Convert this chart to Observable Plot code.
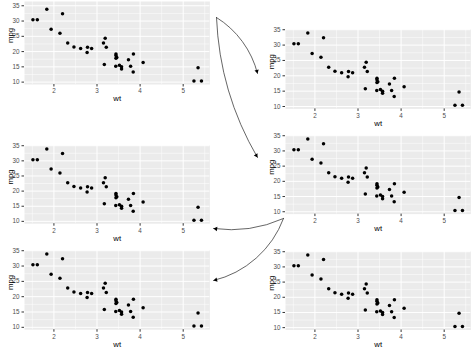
<!DOCTYPE html>
<html>
<head>
<meta charset="utf-8">
<script src="https://cdn.jsdelivr.net/npm/d3@7"></script>
<script src="https://cdn.jsdelivr.net/npm/@observablehq/plot@0.6"></script>
<style>
  html, body { margin: 0; padding: 0; background: #fff; }
  #root { position: relative; width: 474px; height: 351px; overflow: hidden; background: #fff; font-family: "Liberation Sans", Arial, sans-serif; }
  #root > div, #root > svg { position: absolute; }
</style>
</head>
<body>
<div id="root"></div>
<script>
// mtcars: weight (1000 lbs) and miles per gallon
const wt  = [2.620, 2.875, 2.320, 3.215, 3.440, 3.460, 3.570, 3.190, 3.150, 3.440, 3.440, 4.070, 3.730, 3.780, 5.250, 5.424, 5.345, 2.200, 1.615, 1.835, 2.465, 3.520, 3.435, 3.840, 3.845, 1.935, 2.140, 1.513, 3.170, 2.770, 3.570, 2.780];
const mpg = [21.0, 21.0, 22.8, 21.4, 18.7, 18.1, 14.3, 24.4, 22.8, 19.2, 17.8, 16.4, 17.3, 15.2, 10.4, 10.4, 14.7, 32.4, 30.4, 33.9, 21.5, 15.5, 15.2, 13.3, 19.2, 27.3, 26.0, 30.4, 15.8, 19.7, 15.0, 21.4];
const xMajor = [2, 3, 4, 5];
const xMinor = [1.5, 2.5, 3.5, 4.5, 5.5];
const yMajor = [10, 15, 20, 25, 30, 35];
const yMinor = [12.5, 17.5, 22.5, 27.5, 32.5];
const xLabel = "wt";
const yLabel = "mpg";

// connector arrows between the panels (annotation, pixel space)
const arrowFrom = [[216, 17], [216, 17], [283, 218], [283, 218]];
const arrowTo   = [[257, 73], [257, 157], [213, 228], [213, 280]];
const arrowBend = [22, -14, 16, 28];

const data = wt.map((w, i) => ({wt: w, mpg: mpg[i]}));
const xDomain = [1.3175, 5.6195];
const yDomain = [9.225, 35.075];

// panel layout: left / top / bottom of the grey panel area
const layout = [
  {left: 24,    top: 0.5,   bottom: 83.5,  ytop: 36.4},
  {left: 284.6, top: 29,    bottom: 108.4},
  {left: 284.6, top: 134.8, bottom: 213.4},
  {left: 24,    top: 144.8, bottom: 223},
  {left: 24,    top: 249.8, bottom: 329},
  {left: 284.6, top: 250.5, bottom: 329}
];

const root = document.getElementById("root");
const font = "'Liberation Sans', Arial, Helvetica, sans-serif";

layout.forEach(p => {
  const ml = 32, mt = 4, mr = 4, mb = 24;
  const W = 185.4, H = p.bottom - p.top;
  const chart = Plot.plot({
    width: W + ml + mr,
    height: H + mt + mb,
    marginLeft: ml, marginTop: mt, marginRight: mr, marginBottom: mb,
    style: {fontFamily: font, background: "transparent", overflow: "visible"},
    x: {domain: xDomain},
    y: {domain: [yDomain[0], p.ytop ?? yDomain[1]]},
    marks: [
      Plot.frame({fill: "#EBEBEB", stroke: null}),
      Plot.gridX(xMinor, {stroke: "#fff", strokeOpacity: 1, strokeWidth: 0.5}),
      Plot.gridY(yMinor, {stroke: "#fff", strokeOpacity: 1, strokeWidth: 0.5}),
      Plot.gridX(xMajor, {stroke: "#fff", strokeOpacity: 1, strokeWidth: 1}),
      Plot.gridY(yMajor, {stroke: "#fff", strokeOpacity: 1, strokeWidth: 1}),
      Plot.axisX(xMajor, {tickSize: 2.5, tickPadding: 2, stroke: "#333", fill: "#4D4D4D", fontSize: 6.3, label: null}),
      Plot.axisY(yMajor, {tickSize: 2.5, tickPadding: 2.5, stroke: "#333", fill: "#4D4D4D", fontSize: 6.3, label: null}),
      Plot.dot(data, {x: "wt", y: "mpg", r: 1.75, fill: "#000", stroke: null}),
      Plot.text([xLabel], {text: d => d, frameAnchor: "bottom", dy: 14.5, lineAnchor: "middle", fontSize: 7.8, fill: "#000"}),
      Plot.text([yLabel], {text: d => d, frameAnchor: "left", dx: -14.5, rotate: -90, lineAnchor: "middle", fontSize: 7.8, fill: "#000"})
    ]
  });
  chart.style.left = (p.left - ml) + "px";
  chart.style.top = (p.top - mt) + "px";
  chart.style.position = "absolute";
  root.appendChild(chart);
});

// overlay with connector arrows (circular arcs + filled triangular heads)
const arrows = arrowFrom.map((f, i) => {
  const [x1, y1] = f, [x2, y2] = arrowTo[i];
  const endAngle = Math.atan2(y2 - y1, x2 - x1) + arrowBend[i] * Math.PI / 180;
  const back = 2.4;
  return {x1, y1, x2, y2, bend: arrowBend[i],
    hx: x2 - back * Math.cos(endAngle), hy: y2 - back * Math.sin(endAngle),
    rot: endAngle * 180 / Math.PI + 90};
});
const overlay = Plot.plot({
  width: 474, height: 351, margin: 0,
  style: {background: "transparent", overflow: "visible"},
  x: {type: "identity", axis: null},
  y: {type: "identity", axis: null},
  marks: [
    ...arrows.map(a => Plot.arrow([a], {
      x1: "x1", y1: "y1", x2: "x2", y2: "y2",
      bend: a.bend, headLength: 0, stroke: "#333", strokeWidth: 0.75
    })),
    Plot.dot(arrows, {x: "hx", y: "hy", rotate: "rot", symbol: "triangle", r: 1.6, fill: "#000", stroke: null})
  ]
});
overlay.style.left = "0px";
overlay.style.top = "0px";
overlay.style.position = "absolute";
overlay.style.pointerEvents = "none";
root.appendChild(overlay);
</script>
</body>
</html>
